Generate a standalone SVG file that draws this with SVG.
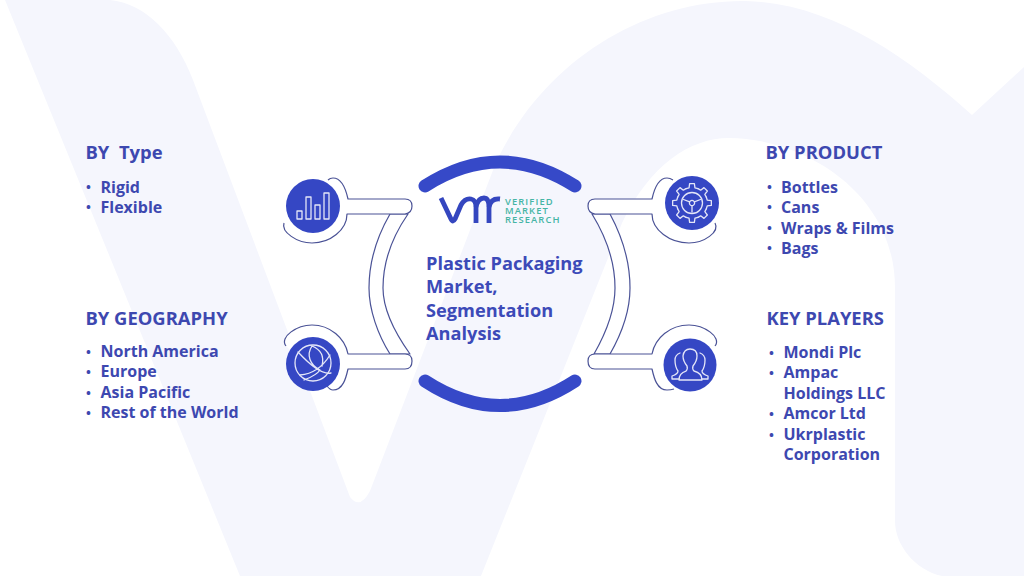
<svg xmlns="http://www.w3.org/2000/svg" xmlns:xlink="http://www.w3.org/1999/xlink" width="1024" height="576" viewBox="0 0 1024 576">
<style>
text{font-family:"Open Sans","Noto Sans","Liberation Sans",sans-serif;font-weight:700;fill:#3d48b0}
.h{font-size:18.4px}
.t{font-size:16px}
.c{font-size:18.2px;fill:#3c4ab8}
.b{font-size:13px}
.l{font-size:9.4px;fill:#45b5a5;letter-spacing:1.1px;font-weight:600}
.o{fill:#fff;stroke:#4a5296;stroke-width:1.2;stroke-linejoin:round}
.k{fill:none;stroke:#3649c8;stroke-width:13;stroke-linecap:round}
.d{fill:#3547c4}
.i{fill:none;stroke:#e4e6f8;stroke-width:1.3;stroke-linejoin:round;stroke-linecap:round}
.v{fill:none;stroke:#3446bf;stroke-width:4.8;stroke-linejoin:round}
</style>
<defs>
<path id="tooth" d="M-5.93-14.32L-2.96-15.2L-2.38-19.35L2.38-19.35L2.96-15.2L5.93-14.32"/>
</defs>
<rect width="1024" height="576" fill="#fff"/>
<g id="watermark">
<path fill="#f5f6fd" d="M5 0H110C145 3 176 35 193 80L350 497Q360 510 370 491L495 165C540 65 640 0 745 1C830 3 905 55 972 115L1024 67V576H942C915 570 895 545 895 521V288C895 190 800 138 729 138C690 138 650 165 622 223L481 576H240Z"/>
</g>
<g id="connectors">
<path class="o" d="M408 214C390 240 383 265 383 288C383 310 395 333 410 354H390C378 335 369 310 369 288C369 265 375 240 390 214Z"/>
<path class="o" d="M592 214C608 240 615 265 615 288C615 310 606 333 594 354H610C622 333 630 310 630 288C630 265 624 240 610 214Z"/>
<path class="o" d="M284 223C281 232 297 243 312 243C330 243 347 230 347 214H405Q412 213 412 206Q412 199 405 199H348C346 190 342 178 333 178Q330 178 328 180"/>
<path class="o" d="M286 346C279 337 297 325 312 325C330 325 345 338 348 354H405Q412 354 412 361Q412 369 405 369H348C346 378 343 390 333 390Q330 390 327 386"/>
<path class="o" d="M715 223C720 232 704 243 689 243C670 243 652 230 652 214H595Q588 213 588 206Q588 199 595 199H652C654 190 658 178 667 178Q670 178 673 180"/>
<path class="o" d="M715 346C722 337 704 325 689 325C670 325 655 338 652 354H595Q588 354 588 361Q588 369 595 369H652C654 378 657 390 667 390Q671 390 674 389"/>
<path class="k" d="M425 186Q500 138 575 186"/>
<path class="k" d="M425 381Q500 430 575 381"/>
</g>
<g id="logo">
<path class="v" d="M441 198L451 219Q453 223 455 219L461 205Q465 198 471 199Q476 200 476 207V223"/>
<path class="v" d="M476 207Q478 198 484 198Q489 198 489 207V223"/>
<path class="v" d="M489 207Q491 198 500 199"/>
<text class="l" x="505" y="205">VERIFIED</text>
<text class="l" x="505" y="214">MARKET</text>
<text class="l" x="505" y="223">RESEARCH</text>
</g>
<g id="center-title">
<text class="c" x="426" y="270">Plastic Packaging</text>
<text class="c" x="426" y="293">Market,</text>
<text class="c" x="426" y="317">Segmentation</text>
<text class="c" x="426" y="340">Analysis</text>
</g>
<g id="icon-type">
<circle class="d" cx="313" cy="206" r="27"/>
<path class="i" d="M297 211h5v8h-5zM306 197h5v22h-5zM315 205h5v14h-5zM324 193h5v26h-5z"/>
</g>
<g id="icon-geography">
<circle class="d" cx="313" cy="364" r="27"/>
<g class="i">
<circle cx="313" cy="363" r="18"/>
<path d="M298 352C310 365 322 375 331 373M300 375C312 374 322 368 330 355M312 346C306 355 310 365 320 370C316 376 306 379 304 380M312 346C322 350 324 358 322 366"/>
</g>
</g>
<g id="icon-product">
<circle class="d" cx="692" cy="203" r="27"/>
<g class="i" transform="translate(692 203)">
<use xlink:href="#tooth"/><use xlink:href="#tooth" transform="rotate(45)"/><use xlink:href="#tooth" transform="rotate(90)"/><use xlink:href="#tooth" transform="rotate(135)"/><use xlink:href="#tooth" transform="rotate(180)"/><use xlink:href="#tooth" transform="rotate(225)"/><use xlink:href="#tooth" transform="rotate(270)"/><use xlink:href="#tooth" transform="rotate(315)"/>
<circle r="10.5"/><circle r="2.6"/>
<path d="M-2.3-1.2L-8.5-3.5M2.3-1.2L8.5-3.5M0 2.6V9"/>
</g>
</g>
<g id="icon-players">
<circle class="d" cx="690" cy="365" r="26.5"/>
<g class="i">
<path d="M679 380Q679 373 686 371Q688 369 687 366Q683 361 683 356Q684 349 690 349Q697 349 697 356Q697 361 693 366Q692 369 694 371Q702 373 702 380Z"/>
<path d="M680 353Q675 355 675 360Q675 367 678 371Q678 374 672 376V379H679"/>
<path d="M700 353Q705 355 705 360Q705 367 702 371Q702 374 708 376V379H702"/>
</g>
</g>
<g id="by-type">
<text class="h" x="85.5" y="159" xml:space="preserve">BY  Type</text>
<text class="b" x="86" y="192">•</text><text class="t" x="100.5" y="193">Rigid</text>
<text class="b" x="86" y="212">•</text><text class="t" x="100.5" y="213">Flexible</text>
</g>
<g id="by-geography">
<text class="h" x="85.5" y="325">BY GEOGRAPHY</text>
<text class="b" x="86" y="357">•</text><text class="t" x="100.5" y="357">North America</text>
<text class="b" x="86" y="377">•</text><text class="t" x="100.5" y="377">Europe</text>
<text class="b" x="86" y="398">•</text><text class="t" x="100.5" y="398">Asia Pacific</text>
<text class="b" x="86" y="418">•</text><text class="t" x="100.5" y="418">Rest of the World</text>
</g>
<g id="by-product">
<text class="h" x="765.5" y="159">BY PRODUCT</text>
<text class="b" x="767" y="192">•</text><text class="t" x="781" y="193">Bottles</text>
<text class="b" x="767" y="212">•</text><text class="t" x="781" y="213">Cans</text>
<text class="b" x="767" y="233">•</text><text class="t" x="781" y="234">Wraps &amp; Films</text>
<text class="b" x="767" y="253">•</text><text class="t" x="781" y="254">Bags</text>
</g>
<g id="key-players">
<text class="h" x="766.5" y="325">KEY PLAYERS</text>
<text class="b" x="769" y="358">•</text><text class="t" x="783.5" y="358">Mondi Plc</text>
<text class="b" x="769" y="378">•</text><text class="t" x="783.5" y="378">Ampac</text>
<text class="t" x="783.5" y="399">Holdings LLC</text>
<text class="b" x="769" y="419">•</text><text class="t" x="783.5" y="419">Amcor Ltd</text>
<text class="b" x="769" y="440">•</text><text class="t" x="783.5" y="440">Ukrplastic</text>
<text class="t" x="783.5" y="460">Corporation</text>
</g>
</svg>
